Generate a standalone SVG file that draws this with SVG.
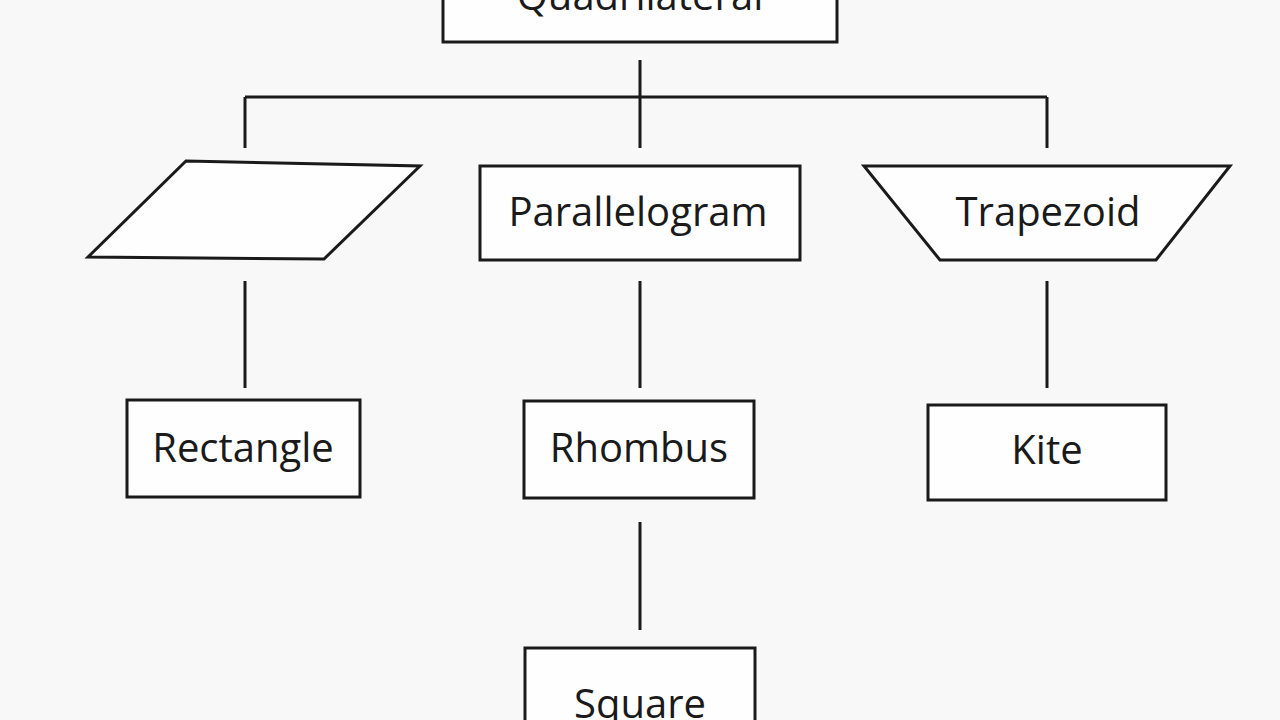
<svg xmlns="http://www.w3.org/2000/svg" width="1280" height="720" viewBox="0 0 1280 720">
<style>
.n{fill:#fefefe;stroke:#1a1a1a;stroke-width:3}
.t{font-family:"Open Sans","Noto Sans",sans-serif;font-size:40px;font-weight:500;fill:#1a1a1a;text-anchor:middle}
.c{stroke:#1a1a1a;stroke-width:3;fill:none}
</style>
<rect width="1280" height="720" fill="#f8f8f8"/>
<g id="connectors">
<path class="c" d="M640 60V148M245 97H1047M245 97V148M1047 97V148M245 281V388M640 281V388M1047 281V388M640 522V630"/>
</g>
<g id="quadrilateral"><rect class="n" x="443" y="-20" width="394" height="62"/><text class="t" x="640" y="10">Quadrilateral</text></g>
<g id="shape-left"><polygon class="n" points="88,257 186,161 420,166 324,259"/></g>
<g id="parallelogram"><rect class="n" x="480" y="166" width="320" height="94"/><text class="t" x="638" y="226">Parallelogram</text></g>
<g id="trapezoid"><polygon class="n" points="864,166 1230,166 1156,260 940,260"/><text class="t" x="1048" y="226">Trapezoid</text></g>
<g id="rectangle"><rect class="n" x="127" y="400" width="233" height="97"/><text class="t" x="243" y="462">Rectangle</text></g>
<g id="rhombus"><rect class="n" x="524" y="401" width="230" height="97"/><text class="t" x="639" y="462">Rhombus</text></g>
<g id="kite"><rect class="n" x="928" y="405" width="238" height="95"/><text class="t" x="1047" y="464">Kite</text></g>
<g id="square"><rect class="n" x="525" y="648" width="230" height="90"/><text class="t" x="640" y="718">Square</text></g>
</svg>
